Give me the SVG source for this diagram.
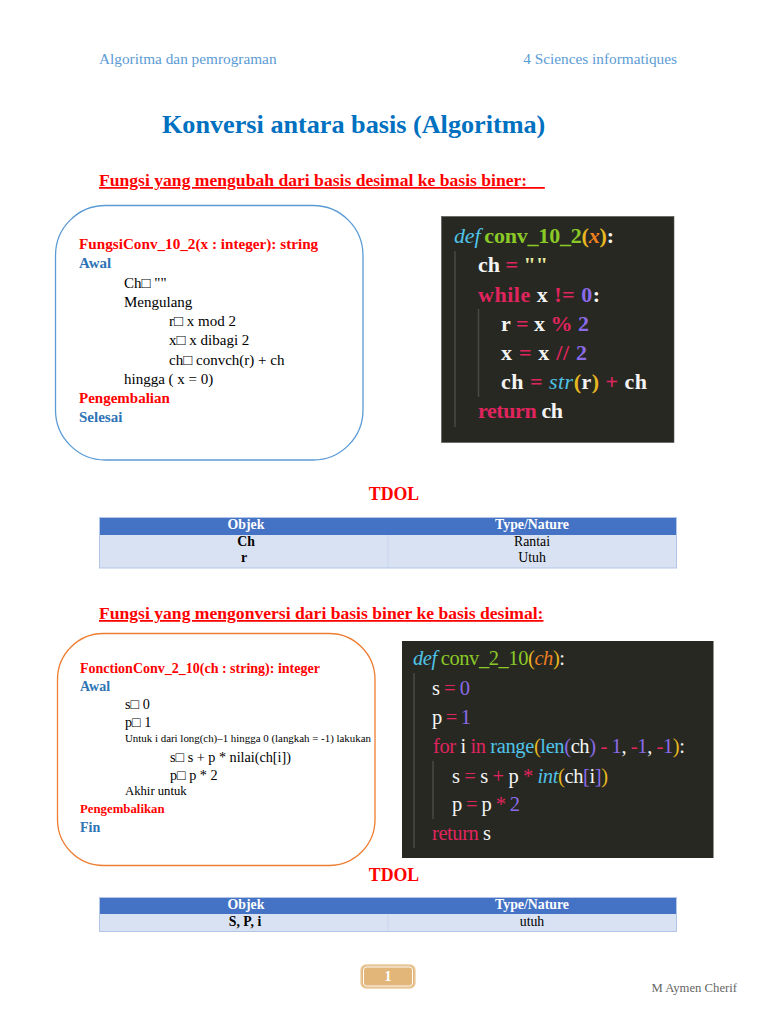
<svg xmlns="http://www.w3.org/2000/svg" width="768" height="1024" viewBox="0 0 768 1024">
<style>
text{font-family:"Liberation Serif","Times New Roman",serif;white-space:pre}
.hd{font-size:15.3px;fill:#5b9bd5}
.red{fill:#ff0000;font-weight:bold}
.blue{fill:#2e74b5;font-weight:bold}
.k{fill:#000;font-size:15px}
.k2{fill:#000;font-size:14.2px}
.h3{font-size:17.6px;font-weight:bold;fill:#ff0000;text-decoration:underline}
.tdol{font-size:17.8px;font-weight:bold;fill:#ff0000}
.th{font-size:13.8px;font-weight:bold;fill:#fff;text-anchor:middle}
.td{font-size:13.8px;fill:#000;text-anchor:middle}
.b{font-weight:bold}
.c1{font-family:"Liberation Serif",serif;font-size:22px;font-weight:bold;fill:#f4f4f4}
.c2{font-family:"Liberation Serif",serif;font-size:20.5px;fill:#f4f4f4}
.pk{fill:#e0245e}.pu{fill:#8b6be8}.gr{fill:#8ac926}.cy{fill:#4fc3e8}.or{fill:#f08020}.ye{fill:#e8b820}.wh{fill:#f4f4f4}
.it{font-style:italic}
.g{stroke:#4a4a44;stroke-width:1.5}
</style>
<rect width="768" height="1024" fill="#fff"/>
<g id="header">
<text x="99" y="64" class="hd">Algoritma dan pemrograman</text>
<text x="677" y="64" class="hd" text-anchor="end">4 Sciences informatiques</text>
</g>
<text x="162" y="133" font-size="26.2" font-weight="bold" fill="#0070c0">Konversi antara basis (Algoritma)</text>
<text x="99" y="186" class="h3">Fungsi yang mengubah dari basis desimal ke basis biner:    </text>

<g id="algo1">
<rect x="55.500" y="205.500" width="307.500" height="254.500" rx="50" fill="#fff" stroke="#5b9bd5" stroke-width="1.300"/>
<text x="79" y="249" class="red" font-size="15.200">FungsiConv_10_2(x : integer): string</text>
<text x="79" y="268" class="blue" font-size="15">Awal</text>
<text x="124" y="288" class="k">Ch□ ""</text>
<text x="124" y="307" class="k">Mengulang</text>
<text x="169" y="326" class="k">r□ x mod 2</text>
<text x="169" y="345" class="k">x□ x dibagi 2</text>
<text x="169" y="365" class="k">ch□ convch(r) + ch</text>
<text x="124" y="384" class="k">hingga ( x = 0)</text>
<text x="79" y="403" class="red" font-size="15">Pengembalian</text>
<text x="79" y="422" class="blue" font-size="15">Selesai</text>
</g>

<g id="code1">
<rect x="441.500" y="216.500" width="232.500" height="226" fill="#272822" stroke="#555" stroke-width="0.600"/>
<line x1="455" y1="251" x2="455" y2="427" class="g"/>
<line x1="478.500" y1="309" x2="478.500" y2="397" class="g"/>
<text x="454" y="243" class="c1" textLength="160"><tspan class="cy it" font-weight="normal">def</tspan><tspan class="gr" dx="4">conv_10_2</tspan><tspan class="ye">(</tspan><tspan class="or it">x</tspan><tspan class="ye">)</tspan><tspan class="wh">:</tspan></text>
<text x="478" y="272" class="c1">ch <tspan class="pk">=</tspan> <tspan fill="#e8e8a0">""</tspan></text>
<text x="478" y="302" class="c1" textLength="122"><tspan class="pk">while</tspan> x <tspan class="pk">!=</tspan> <tspan class="pu">0</tspan>:</text>
<text x="501" y="331" class="c1">r <tspan class="pk">=</tspan> x <tspan class="pk">%</tspan> <tspan class="pu">2</tspan></text>
<text x="501" y="360" class="c1" textLength="86">x <tspan class="pk">=</tspan> x <tspan class="pk">//</tspan> <tspan class="pu">2</tspan></text>
<text x="501" y="389" class="c1" textLength="146">ch <tspan class="pk">=</tspan> <tspan class="cy it" font-weight="normal">str</tspan><tspan class="ye">(</tspan>r<tspan class="ye">)</tspan> <tspan class="pk">+</tspan> ch</text>
<text x="478" y="418" class="c1" textLength="85"><tspan class="pk">return</tspan> ch</text>
</g>

<text x="394" y="500" class="tdol" text-anchor="middle">TDOL</text>

<g id="table1">
<rect x="99" y="517" width="578" height="18" fill="#4472c4"/>
<rect x="99" y="535" width="578" height="33" fill="#d9e2f3"/>
<line x1="388" y1="535" x2="388" y2="568" stroke="#c9d6ee"/>
<rect x="99.500" y="517.500" width="577" height="50.500" fill="none" stroke="#b4c6e7"/>
<text x="246" y="529" class="th">Objek</text>
<text x="532" y="529" class="th">Type/Nature</text>
<text x="246" y="546" class="td b">Ch</text>
<text x="532" y="546" class="td">Rantai</text>
<text x="244" y="562" class="td b">r</text>
<text x="532" y="562" class="td">Utuh</text>
</g>

<text x="99" y="619" class="h3">Fungsi yang mengonversi dari basis biner ke basis desimal:</text>

<g id="algo2">
<rect x="57.500" y="633.500" width="317.500" height="232" rx="46" fill="#fff" stroke="#ed7d31" stroke-width="1.300"/>
<text x="80" y="673" class="red" font-size="14">FonctionConv_2_10(ch : string): integer</text>
<text x="80" y="691" class="blue" font-size="14">Awal</text>
<text x="125" y="709" class="k2">s□ 0</text>
<text x="125" y="727" class="k2">p□ 1</text>
<text x="125" y="742" fill="#000" font-size="10.900">Untuk i dari long(ch)–1 hingga 0 (langkah = -1) lakukan</text>
<text x="170" y="762" class="k2">s□ s + p * nilai(ch[i])</text>
<text x="170" y="780" class="k2">p□ p * 2</text>
<text x="125" y="795" fill="#000" font-size="12.700">Akhir untuk</text>
<text x="80" y="813" class="red" font-size="12.800">Pengembalikan</text>
<text x="80" y="832" class="blue" font-size="14">Fin</text>
</g>

<g id="code2">
<rect x="402" y="641" width="311.500" height="217" fill="#272822"/>
<line x1="414" y1="673" x2="414" y2="848" class="g"/>
<line x1="433" y1="761" x2="433" y2="819" class="g"/>
<text x="413" y="665" class="c2" textLength="152"><tspan class="cy it">def</tspan><tspan class="gr" dx="4">conv_2_10</tspan><tspan class="ye">(</tspan><tspan class="or it">ch</tspan><tspan class="ye">)</tspan><tspan class="wh">:</tspan></text>
<text x="432" y="695" class="c2" textLength="38">s <tspan class="pk">=</tspan> <tspan class="pu">0</tspan></text>
<text x="432" y="724" class="c2" textLength="39">p <tspan class="pk">=</tspan> <tspan class="pu">1</tspan></text>
<text x="433" y="753" class="c2" textLength="252"><tspan class="pk">for</tspan> i <tspan class="pk">in</tspan> <tspan class="cy">range</tspan><tspan class="ye">(</tspan><tspan class="cy">len</tspan><tspan class="pu">(</tspan>ch<tspan class="pu">)</tspan> <tspan class="pk">-</tspan> <tspan class="pu">1</tspan>, <tspan class="pk">-</tspan><tspan class="pu">1</tspan>, <tspan class="pk">-</tspan><tspan class="pu">1</tspan><tspan class="ye">)</tspan>:</text>
<text x="452" y="783" class="c2" textLength="156">s <tspan class="pk">=</tspan> s <tspan class="pk">+</tspan> p <tspan class="pk">*</tspan> <tspan class="cy it">int</tspan><tspan class="ye">(</tspan>ch<tspan class="pu">[</tspan>i<tspan class="pu">]</tspan><tspan class="ye">)</tspan></text>
<text x="452" y="811" class="c2" textLength="68">p <tspan class="pk">=</tspan> p <tspan class="pk">*</tspan> <tspan class="pu">2</tspan></text>
<text x="432" y="840" class="c2" textLength="59"><tspan class="pk">return</tspan> s</text>
</g>

<text x="394" y="881" class="tdol" text-anchor="middle">TDOL</text>

<g id="table2">
<rect x="99" y="897" width="578" height="17" fill="#4472c4"/>
<rect x="99" y="914" width="578" height="18" fill="#d9e2f3"/>
<line x1="388" y1="914" x2="388" y2="932" stroke="#c9d6ee"/>
<rect x="99.500" y="897.500" width="577" height="34" fill="none" stroke="#b4c6e7"/>
<text x="246" y="909" class="th">Objek</text>
<text x="532" y="909" class="th">Type/Nature</text>
<text x="245" y="926" class="td b">S, P, i</text>
<text x="532" y="926" class="td">utuh</text>
</g>

<g id="page">
<rect x="361" y="965" width="54" height="23" rx="5" fill="#e2b578" stroke="#eccb9e" stroke-width="1.300"/>
<rect x="363.500" y="967" width="49" height="19" rx="3" fill="#e2b578" stroke="#fff" stroke-width="1"/>
<text x="388" y="981" font-size="14" font-weight="bold" fill="#fff" text-anchor="middle">1</text>
</g>
<text x="737" y="992" font-size="12.700" fill="#666" text-anchor="end">M Aymen Cherif</text>
</svg>
